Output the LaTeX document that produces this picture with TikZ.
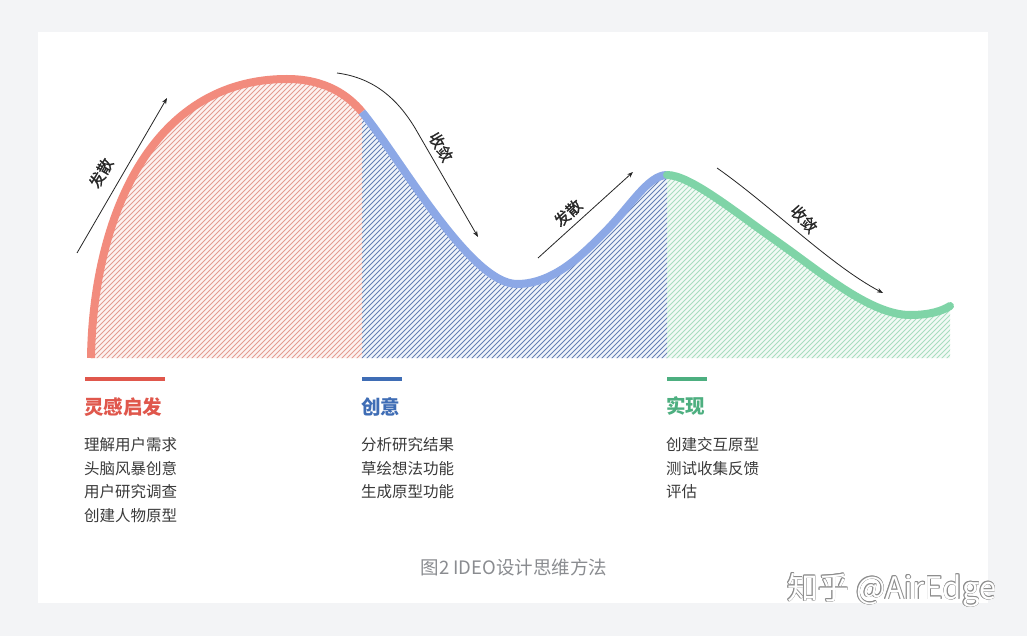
\documentclass[tikz,border=0pt]{standalone}
\usepackage{fontspec}
\setmainfont{Noto Sans CJK SC}
\newfontfamily\lblfont[FakeBold=1.2]{Noto Sans CJK SC}
\usetikzlibrary{arrows.meta}
\definecolor{bg}{HTML}{F3F4F6}
\definecolor{tred}{HTML}{E0574C}
\definecolor{tblue}{HTML}{3F6DB5}
\definecolor{tgreen}{HTML}{4DAF80}
\definecolor{cred}{HTML}{F28B7D}
\definecolor{cblue}{HTML}{8CA8E6}
\definecolor{cgreen}{HTML}{7FD4A7}
\definecolor{hred}{HTML}{E39C91}
\definecolor{hblue}{HTML}{6580B4}
\definecolor{hgreen}{HTML}{A8DDBF}
\definecolor{tintred}{HTML}{FDF2F0}
\definecolor{tintblue}{HTML}{F0F4FB}
\definecolor{tintgreen}{HTML}{F2FAF5}
\definecolor{itemgray}{HTML}{3A3A3A}
\definecolor{capgray}{HTML}{8A8C90}
\begin{document}
\begin{tikzpicture}[x=1pt,y=-1pt,
  curvebase/.style={line width=8pt, line cap=butt},
  hatchline/.style={line width=0.75pt},
  arr/.style={draw=black!85, line width=0.8pt, -{Stealth[length=6pt,width=4.5pt]}},
  lbl/.style={font=\lblfont\fontsize{15.5}{16}\selectfont, text=black!85, inner sep=0pt},
  ttl/.style={anchor=west, font=\bfseries\fontsize{19.5}{21}\selectfont, inner sep=0pt},
  itm/.style={anchor=west, font=\fontsize{15.5}{17}\selectfont, text=itemgray, inner sep=0pt},
  bar/.style={line width=4pt}
]
\useasboundingbox[fill=bg] (0,0) rectangle (1027,636);
\fill[white] (38,32) rectangle (988,603);

% hatched area under the curve
\begin{scope}
  \clip (91,358) .. controls (93,220) and (150,79) .. (287,79)
        .. controls (325,79) and (348,95) .. (362,112)
        .. controls (400,158) and (470,284) .. (517,284)
        .. controls (555,284) and (585,252) .. (605,232)
        .. controls (630,207) and (648,175) .. (667,175)
        .. controls (690,175) and (735,212) .. (775,240)
        .. controls (820,271.5) and (870,315) .. (910,315)
        .. controls (930,315) and (942,311) .. (950,306)
        -- (950,358) -- cycle;
  \fill[tintred] (80,50) rectangle (362,360);
  \fill[tintblue] (362,50) rectangle (667,360);
  \fill[tintgreen] (667,50) rectangle (960,360);
  \begin{scope}
    \clip (80,50) rectangle (362,360);
    \foreach \x in {-220,-215,...,365} \draw[hatchline, hred] (\x,360) -- ++(300,-300);
  \end{scope}
  \begin{scope}
    \clip (362,50) rectangle (667,360);
    \foreach \x in {60,65,...,670} \draw[hatchline, hblue] (\x,360) -- ++(300,-300);
  \end{scope}
  \begin{scope}
    \clip (667,50) rectangle (960,360);
    \foreach \x in {365,370,...,960} \draw[hatchline, hgreen] (\x,360) -- ++(300,-300);
  \end{scope}
\end{scope}

% the curve
\draw[curvebase, cred] (91,358) .. controls (93,220) and (150,79) .. (287,79)
        .. controls (325,79) and (348,95) .. (362,112);
\draw[curvebase, cblue] (362,112) .. controls (400,158) and (470,284) .. (517,284)
        .. controls (555,284) and (585,252) .. (605,232)
        .. controls (630,207) and (648,175) .. (667,175);
\draw[curvebase, cgreen, line cap=round] (667,175) .. controls (690,175) and (735,212) .. (775,240)
        .. controls (820,271.5) and (870,315) .. (910,315)
        .. controls (930,315) and (942,311) .. (950,306);

% arrows
\coordinate (a1s) at (77,253);
\coordinate (a1e) at (167,98);
\coordinate (a2s) at (337,73);
\coordinate (a2m) at (415,128);
\coordinate (a2e) at (478,237);
\coordinate (a3s) at (538,258);
\coordinate (a3e) at (633,172);
\coordinate (a4s) at (717,168);
\coordinate (a4e) at (883,293);
\draw[arr] (a1s) -- (a1e);
\draw[arr] (a2s) .. controls (375,78) and (398,100) .. (a2m) -- (a2e);
\draw[arr] (a3s) -- (a3e);
\draw[arr] (a4s) .. controls (770,205) and (830,265) .. (a4e);

\node[lbl, rotate=60]  (l1) at (101,173) {发散};
\node[lbl, rotate=-60] (l2) at (441,147) {收敛};
\node[lbl, rotate=42]  (l3) at (568,213) {发散};
\node[lbl, rotate=-48] (l4) at (804,219) {收敛};

% legend bars
\coordinate (b1s) at (85,379);  \coordinate (b1e) at (165,379);
\coordinate (b2s) at (362,379); \coordinate (b2e) at (402,379);
\coordinate (b3s) at (667,379); \coordinate (b3e) at (707,379);
\draw[bar, tred] (b1s) -- (b1e);
\draw[bar, tblue] (b2s) -- (b2e);
\draw[bar, tgreen] (b3s) -- (b3e);

% titles
\node[ttl, text=tred]   (t1) at (84,407) {灵感启发};
\node[ttl, text=tblue]  (t2) at (361,407) {创意};
\node[ttl, text=tgreen] (t3) at (666,406) {实现};

% items
\node[itm] (i11) at (84,445) {理解用户需求};
\node[itm] (i12) at (84,468.5) {头脑风暴创意};
\node[itm] (i13) at (84,492) {用户研究调查};
\node[itm] (i14) at (84,515.5) {创建人物原型};
\node[itm] (i21) at (361,445) {分析研究结果};
\node[itm] (i22) at (361,468.5) {草绘想法功能};
\node[itm] (i23) at (361,492) {生成原型功能};
\node[itm] (i31) at (666,445) {创建交互原型};
\node[itm] (i32) at (666,468.5) {测试收集反馈};
\node[itm] (i33) at (666,492) {评估};

% caption
\node[font=\fontsize{18.5}{20}\selectfont, text=capgray, inner sep=0pt] (cap) at (514,567) {图2 IDEO设计思维方法};

% site mark
\foreach \dx/\dy in {-0.7/0,0.7/0,0/-0.7,0/0.7,0.5/0.5,-0.5/-0.5,0.5/-0.5,-0.5/0.5}
  \node[anchor=west, font=\fontsize{31}{33}\selectfont, text=black!45, inner sep=0pt] at (787+\dx,590+\dy) {知乎 @AirEdge};
\node[anchor=west, font=\fontsize{31}{33}\selectfont, text=white, inner sep=0pt] (zh) at (787,590) {知乎 @AirEdge};
\end{tikzpicture}
\end{document}
